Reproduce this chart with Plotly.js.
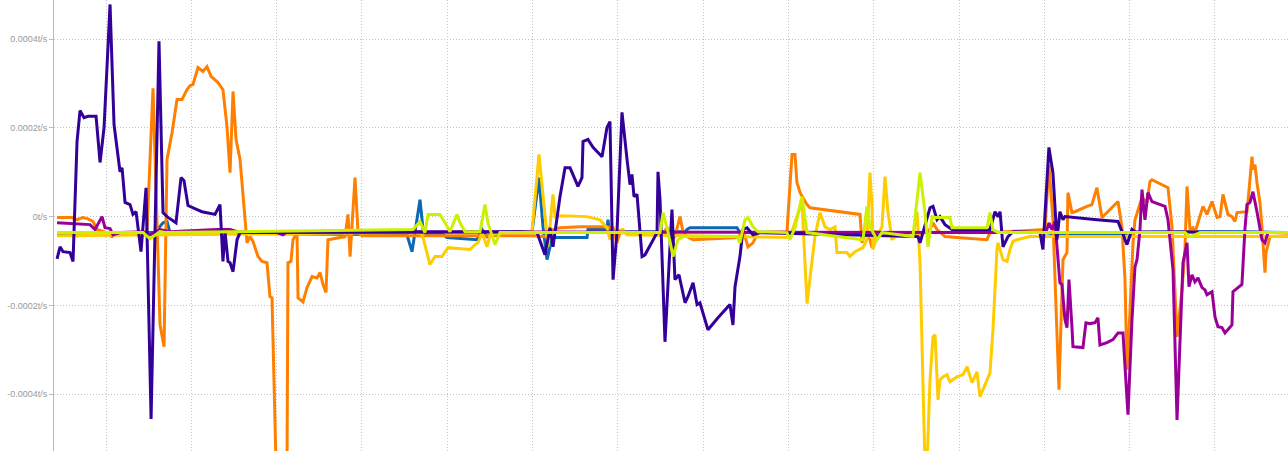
<!DOCTYPE html>
<html>
<head>
<meta charset="utf-8">
<script src="https://cdn.plot.ly/plotly-3.0.1.min.js"></script>
<style>html,body{margin:0;padding:0;background:#fff;}#chart{width:1288px;height:451px;}</style>
</head>
<body>
<div id="chart"></div>
<script>
// Rates in micro t/s (converted to t/s below); time in arbitrary units (grid every 10)
const blueX = [4.26,6.60,9.65,15.74,16.68,17.15,17.50,45.28,45.87,46.81,47.16,47.63,49.50,49.97,53.49,54.08,54.67,55.60,59.94,60.76,61.23,61.70,62.05,62.40,66.39,66.50,68.73,68.85,69.08,69.90,77.88,78.11,78.47,83.97,84.32,120.08,121.83,128.87,130.04,137.08,143.29,148.6];
const blueY = [-41,-43,-36,-36,-14,-11,-36,-41,-79,38,-29,-41,-41,-47,-52,-29,-45,-36,-34,88,-23,-97,-68,-47,-47,-29,-29,-7,-45,-34,-34,-29,-25,-25,-36,-36,-41,-41,-36,-34,-34,-36];

const orangeX = [4.26,6.01,6.60,7.30,7.89,8.48,8.94,9.77,10.70,11.29,14.34,14.81,15.51,15.86,16.33,16.80,17.15,17.74,18.32,18.91,19.50,19.85,20.20,20.78,21.37,21.84,22.31,23.13,23.71,24.18,24.54,24.89,25.24,25.71,26.30,26.53,26.88,27.23,27.82,28.29,28.87,29.22,29.46,29.93,31.22,31.33,31.68,31.92,32.39,32.51,33.09,33.56,34.15,34.73,35.09,35.44,35.79,36.02,38.02,38.37,38.61,39.19,39.54,40.01,60.06,61.46,62.40,63.22,65.57,68.26,69.44,69.90,70.26,75.30,75.77,76.12,76.70,77.29,77.64,78.11,78.82,84.09,84.67,85.26,85.85,86.43,89.83,90.42,90.77,91.00,91.37,92.18,92.53,98.39,98.63,98.98,99.56,99.80,100.15,104.60,106.60,106.95,107.42,108.36,109.76,113.28,113.63,120.08,120.54,121.01,121.72,122.07,122.19,122.66,122.77,123.24,123.59,125.00,125.58,126.17,126.76,128.64,129.11,129.46,129.69,130.04,130.40,130.63,131.45,132.04,132.39,132.62,134.50,134.73,134.97,135.56,136.14,136.49,136.73,137.08,137.43,137.66,138.02,138.60,139.07,139.66,140.25,140.60,140.95,141.53,142.00,142.35,142.59,143.29,143.76,143.87,144.35,144.46,144.70,144.93,145.28,145.52,145.87,145.99,146.22,146.46,148.6];
const orangeY = [-2,-2,-7,-2,-5,-11,-29,-34,-45,-36,-41,-29,289,38,-244,-293,129,189,264,264,286,295,298,336,327,338,316,302,286,203,99,282,174,129,-18,-59,-45,-56,-90,-101,-104,-180,-183,-560,-560,-104,-101,-52,-36,-183,-192,-160,-135,-138,-126,-153,-171,-52,-45,5,-90,88,-34,-43,-43,-45,-29,-25,-23,-23,-25,-59,-36,-41,-23,-56,-45,0,-34,-45,-52,-47,-29,-68,-59,-36,-34,140,140,77,54,27,20,5,-59,-36,-52,-70,-34,-45,-29,-14,-29,-45,-47,-52,-36,-29,117,-7,-390,-142,-97,-81,54,9,11,23,27,65,-2,34,-25,-142,-345,-216,-59,-7,43,32,79,83,65,23,-23,-271,-165,-74,68,-29,-25,-36,-14,23,5,34,-2,0,50,5,0,-11,9,11,11,32,135,106,117,77,32,-25,-126,-81,-63,-45,-43];

const goldX = [4.26,45.99,46.81,47.16,47.98,48.57,49.39,50.09,52.67,53.26,53.61,54.08,54.67,55.02,56.19,59.94,60.76,61.46,61.82,62.40,62.64,63.22,66.39,67.91,68.73,69.08,69.44,70.61,71.08,90.18,90.77,91.59,92.18,93.11,93.70,94.29,94.87,95.46,95.69,96.87,97.22,97.81,98.74,99.21,99.56,99.80,99.91,100.38,100.97,101.32,101.67,102.14,102.49,104.60,105.07,105.43,106.01,106.25,106.60,106.95,107.19,107.54,107.77,108.12,108.59,108.94,109.76,110.47,110.94,111.52,112.11,112.46,113.63,113.98,114.45,114.57,115.16,115.63,115.98,116.33,116.80,118.32,148.6];
const goldY = [-43,-36,-34,-47,-108,-90,-90,-70,-74,-63,-59,-36,-68,-41,-36,-34,140,5,-68,50,0,2,0,-7,-25,-52,-34,-29,-41,-47,-14,34,-196,-45,9,-23,-29,-23,-81,-81,-90,-79,-70,-52,99,23,-74,-45,-23,90,11,-52,-45,-45,11,-104,-560,-560,-368,-271,-266,-413,-368,-361,-356,-372,-361,-356,-338,-374,-350,-406,-352,-255,-74,-59,-97,-101,-74,-56,-52,-45,-45];

const magentaX = [4.26,8.12,8.71,9.53,9.88,10.47,10.82,11.64,14.34,15.16,16.33,17.50,23.01,24.54,25.36,30.05,30.75,31.22,120.08,120.31,120.54,120.90,121.25,121.83,122.07,122.42,122.66,122.89,123.24,123.36,124.53,124.88,125.35,125.93,126.29,126.52,127.34,128.05,128.64,129.22,129.81,130.28,130.63,130.87,131.22,131.45,131.80,132.15,132.62,134.15,134.50,135.09,135.56,136.26,136.73,136.96,137.31,137.66,138.02,138.49,138.84,139.07,139.66,140.01,140.36,140.83,141.18,142.00,142.12,143.17,143.52,143.76,144.11,144.46,144.93,145.52,145.87,146.22,148.6];
const magentaY = [-14,-18,-29,0,-25,-27,-41,-36,-34,-41,-29,-34,-29,-29,-34,-36,-41,-34,-36,-29,-14,-29,-11,-149,-153,-232,-250,-142,-248,-293,-295,-239,-241,-239,-228,-289,-284,-277,-262,-262,-446,-232,-113,-97,-29,61,-7,54,34,23,-7,-120,-458,-104,-59,-158,-131,-147,-138,-160,-165,-176,-169,-226,-248,-250,-262,-244,-169,-153,-29,27,32,56,11,-52,-59,-36,-36];

const indigoX = [4.26,4.61,4.96,5.78,6.13,6.60,6.95,7.42,7.89,8.83,9.30,9.77,10.47,10.94,11.64,11.88,12.23,12.81,13.16,13.52,14.10,14.69,15.28,16.21,16.68,17.15,18.20,18.79,19.14,19.61,20.67,21.25,22.78,23.36,23.71,23.95,24.30,24.54,24.89,25.36,25.71,58.53,60.53,61.46,62.05,62.40,63.22,63.81,64.40,65.33,65.80,65.92,66.50,67.09,68.15,68.73,69.08,69.44,69.90,70.49,71.08,71.43,71.66,71.90,72.25,72.84,73.19,74.60,74.71,74.95,75.53,76.35,76.70,77.17,77.88,78.23,78.82,79.29,79.63,80.57,81.74,83.15,83.50,83.74,84.32,84.67,85.14,85.85,86.67,105.19,105.43,106.60,106.95,107.42,107.77,108.36,109.18,113.63,114.22,114.57,114.81,115.16,115.74,116.33,119.49,119.84,120.54,121.01,121.48,121.83,122.19,122.42,126.17,128.64,129.69,130.28,130.63,148.6];
const indigoY = [-95,-68,-79,-81,-101,169,239,223,226,226,122,201,478,207,101,110,32,27,5,11,-79,65,-456,395,9,0,-14,88,81,25,16,11,5,27,-101,-34,-101,-104,-124,-52,-36,-34,-36,-86,-25,-68,45,110,110,68,88,169,174,156,135,201,214,-142,-36,235,129,72,95,45,50,-90,-86,-36,101,38,-282,16,-142,-131,-194,-180,-149,-198,-194,-255,-228,-198,-244,-158,-90,-29,-25,-41,-36,-45,-59,20,23,-7,0,-18,-29,-29,11,0,11,-68,-45,-34,-36,-74,156,99,-52,11,-7,0,-7,-11,-63,-29,-34,-36];

const limeX = [4.26,14.34,15.16,15.98,16.33,16.92,45.99,46.81,47.39,47.75,49.15,49.74,50.32,51.15,51.50,52.08,53.84,54.43,54.78,55.60,56.19,74.95,75.30,75.88,76.47,77.05,77.64,83.97,84.32,84.91,85.26,85.85,86.43,89.83,90.18,90.77,91.59,92.18,98.74,99.21,99.56,100.38,100.97,104.60,105.43,106.01,106.37,106.84,107.19,108.94,109.18,113.28,113.63,113.98,114.57,136.49,137.08,137.66,138.25,148.6];
const limeY = [-36,-36,-50,-38,-34,-36,-29,-11,-36,5,5,-14,-34,5,-14,-34,-34,27,-14,-63,-36,-36,9,-34,-90,-52,-45,-45,-59,-7,-2,-23,-34,-36,-52,-25,45,-36,-52,23,-23,-52,-36,-45,99,9,-68,0,-2,-2,-25,-25,9,-29,-36,-36,-45,-41,-36,-36];

const yTickVals = [-0.0004, -0.0002, 0, 0.0002, 0.0004];
const yTickText = ['-0.0004t/s', '-0.0002t/s', '0t/s', '0.0002t/s', '0.0004t/s'];

const toTs = a => a.map(v => v * 1e-6);
function line(x, y, color) {
  return {x: x, y: toTs(y), type: 'scatter', mode: 'lines',
          line: {color: color, width: 3}, hoverinfo: 'skip', showlegend: false};
}
const data = [
  line(blueX, blueY, '#0a68b4'),
  line(orangeX, orangeY, '#ff8000'),
  line(goldX, goldY, '#ffcc00'),
  line(magentaX, magentaY, '#990099'),
  line(indigoX, indigoY, '#330099'),
  line(limeX, limeY, '#ccf000')
];
const layout = {
  width: 1288, height: 451,
  margin: {l: 54, r: 0, t: 0, b: 0, pad: 0},
  paper_bgcolor: '#ffffff', plot_bgcolor: '#ffffff',
  font: {family: 'Liberation Sans, Arial, sans-serif', size: 9, color: '#999999'},
  xaxis: {range: [3.9, 148.57], tick0: 0, dtick: 10, showgrid: true, gridcolor: '#c4c4c4',
          griddash: '1px,2px', gridwidth: 1, zeroline: false, showticklabels: false, ticks: '', showline: false},
  yaxis: {range: [-0.000528, 0.000488], tickvals: yTickVals, ticktext: yTickText,
          showgrid: true, gridcolor: '#c4c4c4', griddash: '1px,2px', gridwidth: 1, zeroline: false,
          showline: true, linecolor: '#bbbbbb', linewidth: 1, ticks: 'outside', ticklen: 4,
          tickcolor: '#bbbbbb', tickfont: {size: 9, color: '#999999'}}
};
Plotly.newPlot('chart', data, layout, {staticPlot: true, displayModeBar: false});
</script>
</body>
</html>
